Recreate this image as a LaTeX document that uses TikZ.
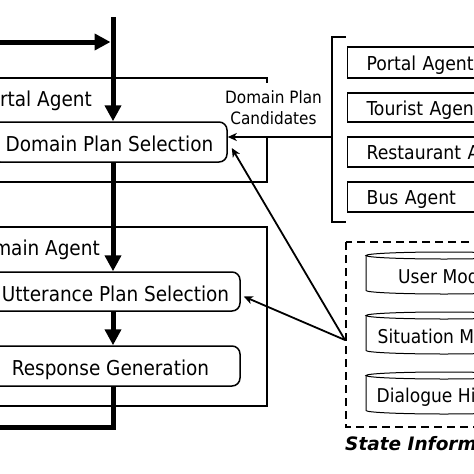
\documentclass[tikz,border=0pt]{standalone}
\usepackage{fontspec}
\setmainfont{DejaVu Sans Condensed}
\newfontfamily\stfont{DejaVu Sans}
\usetikzlibrary{arrows.meta}
\begin{document}
\begin{tikzpicture}[x=1pt,y=-1pt,
  flow/.style={line width=5pt,-{Triangle[length=16pt,width=16pt]}},
  flowline/.style={line width=5pt},
  thinarrow/.style={line width=1.8pt,-{Stealth[length=9pt,width=8pt,inset=2.5pt]}},
  container/.style={line width=2pt},
  procbox/.style={draw,line width=1.5pt,rounded corners=8pt,inner sep=0pt,
    text height=19.2pt,text depth=0pt,font=\fontsize{20.5}{24}\selectfont},
  agentbox/.style={draw,line width=1.3pt,rectangle,anchor=west,inner ysep=0pt,
    inner xsep=19pt,text width=220pt,align=left,
    text height=15pt,text depth=0pt,font=\fontsize{19.2}{22}\selectfont},
  lab/.style={inner sep=0pt,font=\fontsize{20.5}{24}\selectfont},
  smalllab/.style={inner sep=0pt,align=center,font=\fontsize{17}{21}\selectfont},
  cyltext/.style={inner sep=0pt,anchor=base west,font=\fontsize{19}{22}\selectfont},
  cyl/.style={line width=1pt}
]
\useasboundingbox (0,0) rectangle (474,474);
\fill[white] (0,0) rectangle (474,474);
\clip (0,0) rectangle (474,474);

% containers
\draw[container] (-5,78) -- (267,78) -- (267,83);
\draw[container] (267,137) -- (267,182) -- (-5,182);
\draw[container] (-5,227) -- (267,227) -- (267,406) -- (-5,406);
\node[lab,anchor=base east] (pal) at (92,106) {Portal Agent};
\node[lab,anchor=base east] (dal) at (100,255.5) {Domain Agent};

% process boxes
\node[procbox,minimum width=235pt,minimum height=40pt] (dps) at (109.5,142) {Domain Plan Selection};
\node[procbox,minimum width=249pt,minimum height=39pt] (ups) at (115.5,291.5) {Utterance Plan Selection};
\node[procbox,minimum width=259pt,minimum height=40pt] (rg) at (110.5,366) {Response Generation};

% main flow
\coordinate (top) at (113,17);
\coordinate (hit) at (113,42);
\coordinate (inl) at (-5,42);
\coordinate (outl) at (-5,427);
\draw[flow] (inl) -- ([xshift=-2.5pt]hit);
\draw[flow] (top) -- (top |- dps.north);
\draw[flow] (top |- dps.south) -- (top |- ups.north);
\draw[flow] (top |- ups.south) -- (top |- rg.north);
\draw[flowline] (top |- rg.south) |- (outl);

% domain plan candidates
\node[smalllab] (cand) at (273.5,108) {Domain Plan\\Candidates};

% agents bracket
\draw[container] (346,37) -- (332,37) -- (332,222) -- (346,222);
\coordinate (brk) at (332,137);
\node[agentbox,minimum height=31pt] (pa) at (347,62.5) {Portal Agent};
\node[agentbox,minimum height=29pt] (ta) at (347,107.5) {Tourist Agent};
\node[agentbox,minimum height=30pt] (ra) at (347,152) {Restaurant Agent};
\node[agentbox,minimum height=30pt] (ba) at (347,197) {Bus Agent};
\draw[thinarrow] (brk) -- (dps.east |- brk);

% state information
\draw[container,dash pattern=on 8pt off 5pt] (346,242) rectangle (580,427);
\foreach \cy in {255.5,315.5,375.5}{
  \draw[cyl] (444,\cy) ellipse[x radius=78, y radius=3.5];
  \draw[cyl] (366,\cy) -- (366,\cy+35) arc[start angle=180,end angle=0,x radius=78,y radius=3.5] -- (522,\cy);
}
\node[cyltext] (um) at (398,283) {User Model};
\node[cyltext] (sm) at (377.5,343.3) {Situation Model};
\node[cyltext] (dh) at (376.5,402.3) {Dialogue History};
\node[inner sep=0pt,anchor=base west,font=\stfont\fontsize{18.5}{22}\selectfont\bfseries\itshape] (sti) at (345,450) {State Information};

\coordinate (src) at (345,340);
\draw[thinarrow] (src) -- ([shift={(4,6)}]dps.east);
\draw[thinarrow] (src) -- ([shift={(3,5)}]ups.east);
\end{tikzpicture}
\end{document}
